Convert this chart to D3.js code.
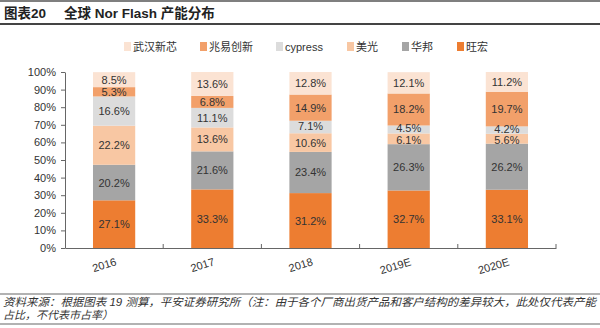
<!DOCTYPE html>
<html><head><meta charset="utf-8">
<script src="https://cdn.jsdelivr.net/npm/d3@7"></script>
<style>body{margin:0;background:#fff;}svg{display:block;}</style>
</head><body>
<svg id="c" width="600" height="328"></svg>
<script>
const categories = ["2016", "2017", "2018", "2019E", "2020E"];
const seriesNames = ["旺宏", "华邦", "美光", "cypress", "兆易创新", "武汉新芯"];
const wanghong = [27.1, 33.3, 31.2, 32.7, 33.1];
const huabang  = [20.2, 21.6, 23.4, 26.3, 26.2];
const meiguang = [22.2, 13.6, 10.6, 6.1, 5.6];
const cypress  = [16.6, 11.1, 7.1, 4.5, 4.2];
const zhaoyi   = [5.3, 6.8, 14.9, 18.2, 19.7];
const wuhan    = [8.5, 13.6, 12.8, 12.1, 11.2];
const yTicks = [0, 10, 20, 30, 40, 50, 60, 70, 80, 90, 100];
const legendOrder = ["武汉新芯", "兆易创新", "cypress", "美光", "华邦", "旺宏"];

const seriesValues = [wanghong, huabang, meiguang, cypress, zhaoyi, wuhan];
const colors = {"旺宏":"#ED7D31","华邦":"#A5A5A5","美光":"#F8C7A3","cypress":"#DCDCDC","兆易创新":"#F2A06A","武汉新芯":"#FBE3D3"};

const svg = d3.select("#c");
const font = "Arial, 'Liberation Sans', 'Noto Sans CJK SC', sans-serif";

// Title bar
svg.append("line").attr("x1",0).attr("x2",600).attr("y1",1).attr("y2",1).attr("stroke","#555").attr("stroke-width",1.5);
svg.append("line").attr("x1",0).attr("x2",600).attr("y1",24).attr("y2",24).attr("stroke","#444").attr("stroke-width",2);
svg.append("text").attr("x",4).attr("y",18).attr("font-family",font).attr("font-weight","bold").attr("font-size",13.5).attr("fill","#222").text("图表20");
svg.append("text").attr("x",64).attr("y",18).attr("font-family",font).attr("font-weight","bold").attr("font-size",13.5).attr("fill","#222").text("全球 Nor Flash 产能分布");

// Data table
const table = categories.map((c,i)=>{const o={cat:c}; seriesNames.forEach((s,j)=>o[s]=seriesValues[j][i]); return o;});
const stack = d3.stack().keys(seriesNames)(table);

const x = d3.scaleBand().domain(categories).range([65,556]).paddingInner(0.57).paddingOuter(0.285);
const y = d3.scaleLinear().domain([0,100]).range([248,72]);

// Y axis
const yAxis = svg.append("g").attr("transform","translate(65,0)")
  .call(d3.axisLeft(y).tickValues(yTicks).tickFormat(d=>d+"%").tickSize(4).tickSizeOuter(0));
yAxis.select(".domain").attr("stroke","#666");
yAxis.selectAll(".tick line").attr("stroke","#666");
yAxis.selectAll("text").attr("font-family",font).attr("font-size",11).attr("fill","#333").attr("dx","-2");

// X axis
const xAxis = svg.append("g").attr("transform","translate(0,248)")
  .call(d3.axisBottom(x).tickSize(0).tickSizeOuter(0).tickFormat(""));
xAxis.select(".domain").attr("stroke","#666");
const step = x.step();
const bounds = d3.range(categories.length+1).map(i=>65 + i*step);
svg.append("g").selectAll("line").data(bounds.slice(1)).join("line")
  .attr("x1",d=>d).attr("x2",d=>d).attr("y1",248).attr("y2",244).attr("stroke","#666");
svg.append("g").selectAll("text").data(categories).join("text")
  .attr("transform",d=>`translate(${x(d)+x.bandwidth()/2+3},${265}) rotate(-17)`)
  .attr("text-anchor","end").attr("font-family",font).attr("font-size",11).attr("fill","#333").text(d=>d);

// Bars
const layers = svg.append("g").selectAll("g").data(stack).join("g").attr("fill",d=>colors[d.key]);
layers.selectAll("rect").data(d=>d).join("rect")
  .attr("x",d=>x(d.data.cat)).attr("width",x.bandwidth())
  .attr("y",d=>y(d[1])).attr("height",d=>y(d[0])-y(d[1]));

// Labels (small adjacent segments nudged apart slightly)
const nudge = {"美光":1.5, "cypress":-1.5};
stack.forEach(layer=>{
  svg.append("g").selectAll("text").data(layer).join("text")
    .attr("x",d=>x(d.data.cat)+x.bandwidth()/2)
    .attr("y",d=>{const v=d[1]-d[0]; const n=(v<7.5 && nudge[layer.key])?nudge[layer.key]:0; return (y(d[0])+y(d[1]))/2+4+n;})
    .attr("text-anchor","middle").attr("font-family",font).attr("font-size",11).attr("fill","#333")
    .text(d=>(d[1]-d[0]).toFixed(1)+"%");
});

// Legend
const legendX = [124, 200, 276, 347, 402, 457];
const lg = svg.append("g").selectAll("g").data(legendOrder).join("g")
  .attr("transform",(d,i)=>`translate(${legendX[i]},47)`);
lg.append("rect").attr("x",0).attr("y",-5).attr("width",7).attr("height",9).attr("fill",d=>colors[d]);
lg.append("text").attr("x",9).attr("y",4).attr("font-family",font).attr("font-size",11).attr("fill","#333").text(d=>d);

// Footnote
svg.append("line").attr("x1",0).attr("x2",600).attr("y1",294).attr("y2",294).attr("stroke","#666").attr("stroke-width",1.2);
svg.append("line").attr("x1",0).attr("x2",600).attr("y1",324).attr("y2",324).attr("stroke","#666").attr("stroke-width",1.2);
const fn = svg.append("text").attr("font-family",font).attr("font-size",11).attr("font-style","italic").attr("fill","#333");
fn.append("tspan").attr("x",3).attr("y",306).attr("textLength",593).attr("lengthAdjust","spacingAndGlyphs").text("资料来源：根据图表 19 测算，平安证券研究所（注：由于各个厂商出货产品和客户结构的差异较大，此处仅代表产能");
fn.append("tspan").attr("x",3).attr("y",319).text("占比，不代表市占率）");
</script>
</body></html>
